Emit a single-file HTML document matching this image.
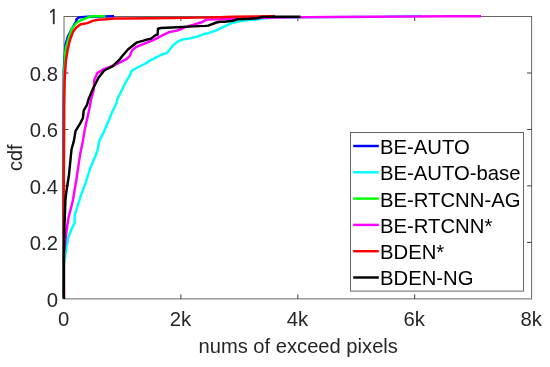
<!DOCTYPE html><html><head><meta charset="utf-8"><title>cdf</title><style>html,body{margin:0;padding:0;background:#fff}svg{display:block}text{font-family:"Liberation Sans",sans-serif;font-size:20.3px;fill:#262626}</style></head><body>
<svg width="550" height="367" viewBox="0 0 550 367">
<rect width="550" height="367" fill="#fff"/>
<rect x="64.0" y="16.5" width="467.6" height="282.4" fill="none" stroke="#666" stroke-width="1"/>
<path d="M180.9 298.9v-4.5M180.9 16.5v4.5M297.8 298.9v-4.5M297.8 16.5v4.5M414.7 298.9v-4.5M414.7 16.5v4.5M64.0 242.4h4.5M531.6 242.4h-4.5M64.0 185.9h4.5M531.6 185.9h-4.5M64.0 129.5h4.5M531.6 129.5h-4.5M64.0 73.0h4.5M531.6 73.0h-4.5" stroke="#3c3c3c" stroke-width="1" fill="none"/>
<text x="63.6" y="325.8" text-anchor="middle">0</text>
<text x="180.5" y="325.8" text-anchor="middle">2k</text>
<text x="297.4" y="325.8" text-anchor="middle">4k</text>
<text x="414.3" y="325.8" text-anchor="middle">6k</text>
<text x="531.2" y="325.8" text-anchor="middle">8k</text>
<text x="58" y="306.6" text-anchor="end">0</text>
<text x="58" y="250.1" text-anchor="end">0.2</text>
<text x="58" y="193.6" text-anchor="end">0.4</text>
<text x="58" y="137.2" text-anchor="end">0.6</text>
<text x="58" y="80.7" text-anchor="end">0.8</text>
<text x="58.9" y="24.2" text-anchor="end" style="font-family:NanumGothic,'Liberation Sans',sans-serif;stroke:#262626;stroke-width:0.4;font-size:19.4px">1</text>
<text x="298.2" y="353" text-anchor="middle" style="font-size:20.17px">nums of exceed pixels</text>
<text transform="translate(21.8,157.7) rotate(-90)" text-anchor="middle" style="font-size:20.1px">cdf</text>
<polyline fill="none" stroke="#0000ff" stroke-width="2.45" stroke-linejoin="round" stroke-linecap="butt" points="63.5,298.0 63.5,120.0 63.8,70.0 64.4,60.0 65.5,45.0 67.6,37.3 70.9,30.7 74.0,25.0 76.4,21.5 76.4,19.3 79.0,17.4 87.3,16.8 114.0,16.3"/>
<polyline fill="none" stroke="#00ffff" stroke-width="2.45" stroke-linejoin="round" stroke-linecap="butt" points="64.5,262.0 66.0,250.0 68.1,238.2 71.4,229.4 74.6,222.9 74.6,215.3 76.8,208.7 79.5,200.0 81.3,194.2 86.2,181.1 90.3,168.0 95.2,156.5 97.6,150.0 99.3,140.9 104.2,131.1 109.1,119.6 112.4,111.5 116.5,103.3 117.0,100.0 120.6,92.6 125.5,82.7 130.4,74.5 131.2,71.3 137.5,67.5 144.5,64.0 151.5,59.8 160.9,55.0 167.5,52.6 172.4,46.0 177.3,41.9 182.2,39.5 188.7,38.6 198.5,36.2 205.1,33.7 208.2,33.2 216.4,30.4 224.5,26.3 232.7,22.7 240.9,21.0 249.1,20.1 257.3,19.4 265.5,18.2 273.6,17.7 300.0,17.4 330.0,17.1 385.0,16.7 400.0,16.2 422.0,15.9"/>
<polyline fill="none" stroke="#00ff00" stroke-width="2.45" stroke-linejoin="round" stroke-linecap="butt" points="63.8,298.0 63.9,120.0 64.3,70.0 65.0,55.0 66.0,47.0 68.2,39.4 72.0,28.5 76.4,23.0 81.8,19.8 89.4,16.8 92.7,16.2 105.3,16.2"/>
<polyline fill="none" stroke="#ff00ff" stroke-width="2.45" stroke-linejoin="round" stroke-linecap="butt" points="64.5,250.0 65.9,236.0 67.0,227.3 68.6,217.4 70.8,208.7 73.0,200.0 73.9,194.2 76.4,179.5 78.8,163.1 80.5,152.4 82.9,140.9 84.5,131.1 87.0,119.6 89.5,108.2 91.1,99.1 93.5,90.9 94.4,79.5 97.6,72.9 104.2,68.8 114.0,65.5 120.0,62.4 126.5,59.1 129.8,55.8 132.3,50.1 136.4,46.8 144.5,43.6 152.7,40.3 160.9,36.2 169.1,32.1 177.3,30.5 185.5,27.2 193.6,24.7 201.8,22.3 203.3,21.4 206.5,19.6 216.4,19.4 232.7,18.9 249.1,18.3 265.5,17.7 290.0,17.4 330.0,17.0 450.0,16.2 481.0,16.2"/>
<polyline fill="none" stroke="#ff0000" stroke-width="2.45" stroke-linejoin="round" stroke-linecap="butt" points="63.9,298.9 63.9,245.0 63.7,230.0 63.7,200.0 64.1,130.0 64.2,100.0 64.6,80.0 65.1,72.0 66.0,60.0 67.6,50.0 69.8,40.5 73.0,31.8 76.4,27.4 80.7,24.2 87.3,23.1 92.7,20.9 98.2,19.8 105.8,19.3 114.5,18.5 120.0,18.5 152.7,18.3 185.5,17.9 200.0,17.6 220.0,17.2 232.7,16.8 255.0,16.4 275.0,16.3"/>
<polyline fill="none" stroke="#000000" stroke-width="2.45" stroke-linejoin="round" stroke-linecap="butt" points="63.9,298.9 63.9,260.0 64.2,239.0 64.5,225.0 64.8,216.4 65.4,200.0 66.5,190.9 69.0,174.5 70.6,158.5 71.5,149.5 73.9,140.9 75.5,131.1 80.5,122.9 82.9,118.0 83.7,110.6 87.0,104.9 88.6,99.1 92.7,89.3 98.5,77.8 104.2,70.5 112.4,66.4 120.0,59.1 122.5,55.8 128.2,49.3 136.4,42.7 144.5,40.3 151.1,38.6 155.2,35.4 157.6,34.5 158.0,28.8 160.9,28.0 177.3,27.2 193.6,26.4 205.1,25.9 208.2,25.6 216.4,22.5 220.0,21.8 224.5,21.7 232.7,20.7 237.6,19.3 249.1,18.8 257.3,18.2 262.2,16.9 273.6,16.7 300.5,16.7"/>
<rect x="350.5" y="132.5" width="173" height="158.6" fill="#fff" stroke="#666" stroke-width="1"/>
<line x1="353.2" x2="378.8" y1="146.0" y2="146.0" stroke="#0000ff" stroke-width="2.45"/>
<text x="380" y="153.9" style="fill:#000">BE-AUTO</text>
<line x1="353.2" x2="378.8" y1="172.3" y2="172.3" stroke="#00ffff" stroke-width="2.45"/>
<text x="380" y="180.2" style="fill:#000">BE-AUTO-base</text>
<line x1="353.2" x2="378.8" y1="198.6" y2="198.6" stroke="#00ff00" stroke-width="2.45"/>
<text x="380" y="206.5" style="fill:#000">BE-RTCNN-AG</text>
<line x1="353.2" x2="378.8" y1="224.9" y2="224.9" stroke="#ff00ff" stroke-width="2.45"/>
<text x="380" y="232.8" style="fill:#000">BE-RTCNN*</text>
<line x1="353.2" x2="378.8" y1="251.2" y2="251.2" stroke="#ff0000" stroke-width="2.45"/>
<text x="380" y="259.1" style="fill:#000">BDEN*</text>
<line x1="353.2" x2="378.8" y1="277.5" y2="277.5" stroke="#000000" stroke-width="2.45"/>
<text x="380" y="285.4" style="fill:#000">BDEN-NG</text>
</svg></body></html>
